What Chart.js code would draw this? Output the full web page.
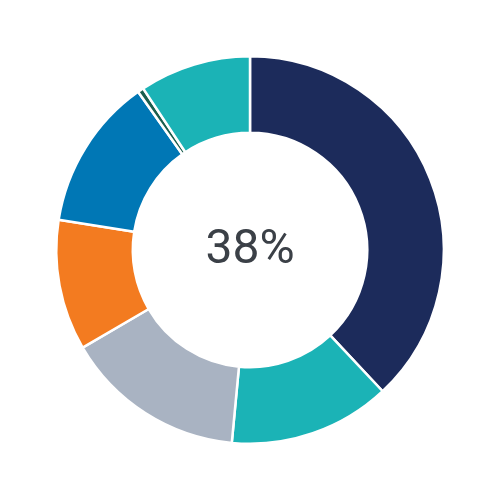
<!DOCTYPE html>
<html lang="en">
<head>
  <meta charset="UTF-8">
  <title>Doughnut</title>
  <script src="https://cdn.jsdelivr.net/npm/chart.js"></script>
  <style>
    body { margin: 0; padding: 0; background: #fff; }
    .wrap { position: relative; width: 500px; height: 500px; }
    .center-label {
      position: absolute; left: 0; top: -4px; width: 500px; height: 500px;
      display: flex; align-items: center; justify-content: center;
      font-family: Roboto, Arial, sans-serif; font-size: 48px; color: #3b4047;
      pointer-events: none;
    }
  </style>
</head>
<body>
<div class="wrap">
  <canvas id="donut" width="500" height="500"></canvas>
  <div class="center-label" id="centerLabel"></div>
</div>
<script>
  // segments clockwise from 12 o'clock
  var labels = ['A', 'B', 'C', 'D', 'E', 'F', 'G'];
  var values = [38, 13.5, 15.1, 10.9, 12.7, 0.5, 9.3];
  var colors = ['#1c2b5b', '#1bb3b6', '#a9b3c2', '#f37b20', '#0077b5', '#1b5e4e', '#1bb3b6'];
  var centerText = '38%';

  document.getElementById('centerLabel').textContent = centerText;

  var ctx = document.getElementById('donut').getContext('2d');
  new Chart(ctx, {
    type: 'doughnut',
    data: {
      labels: labels,
      datasets: [{
        data: values,
        backgroundColor: colors,
        borderColor: '#ffffff',
        borderWidth: 2.5
      }]
    },
    options: {
      responsive: false,
      animation: false,
      cutout: '60.5%',
      layout: { padding: 55 },
      plugins: {
        legend: { display: false },
        tooltip: { enabled: false }
      }
    }
  });
</script>
</body>
</html>
